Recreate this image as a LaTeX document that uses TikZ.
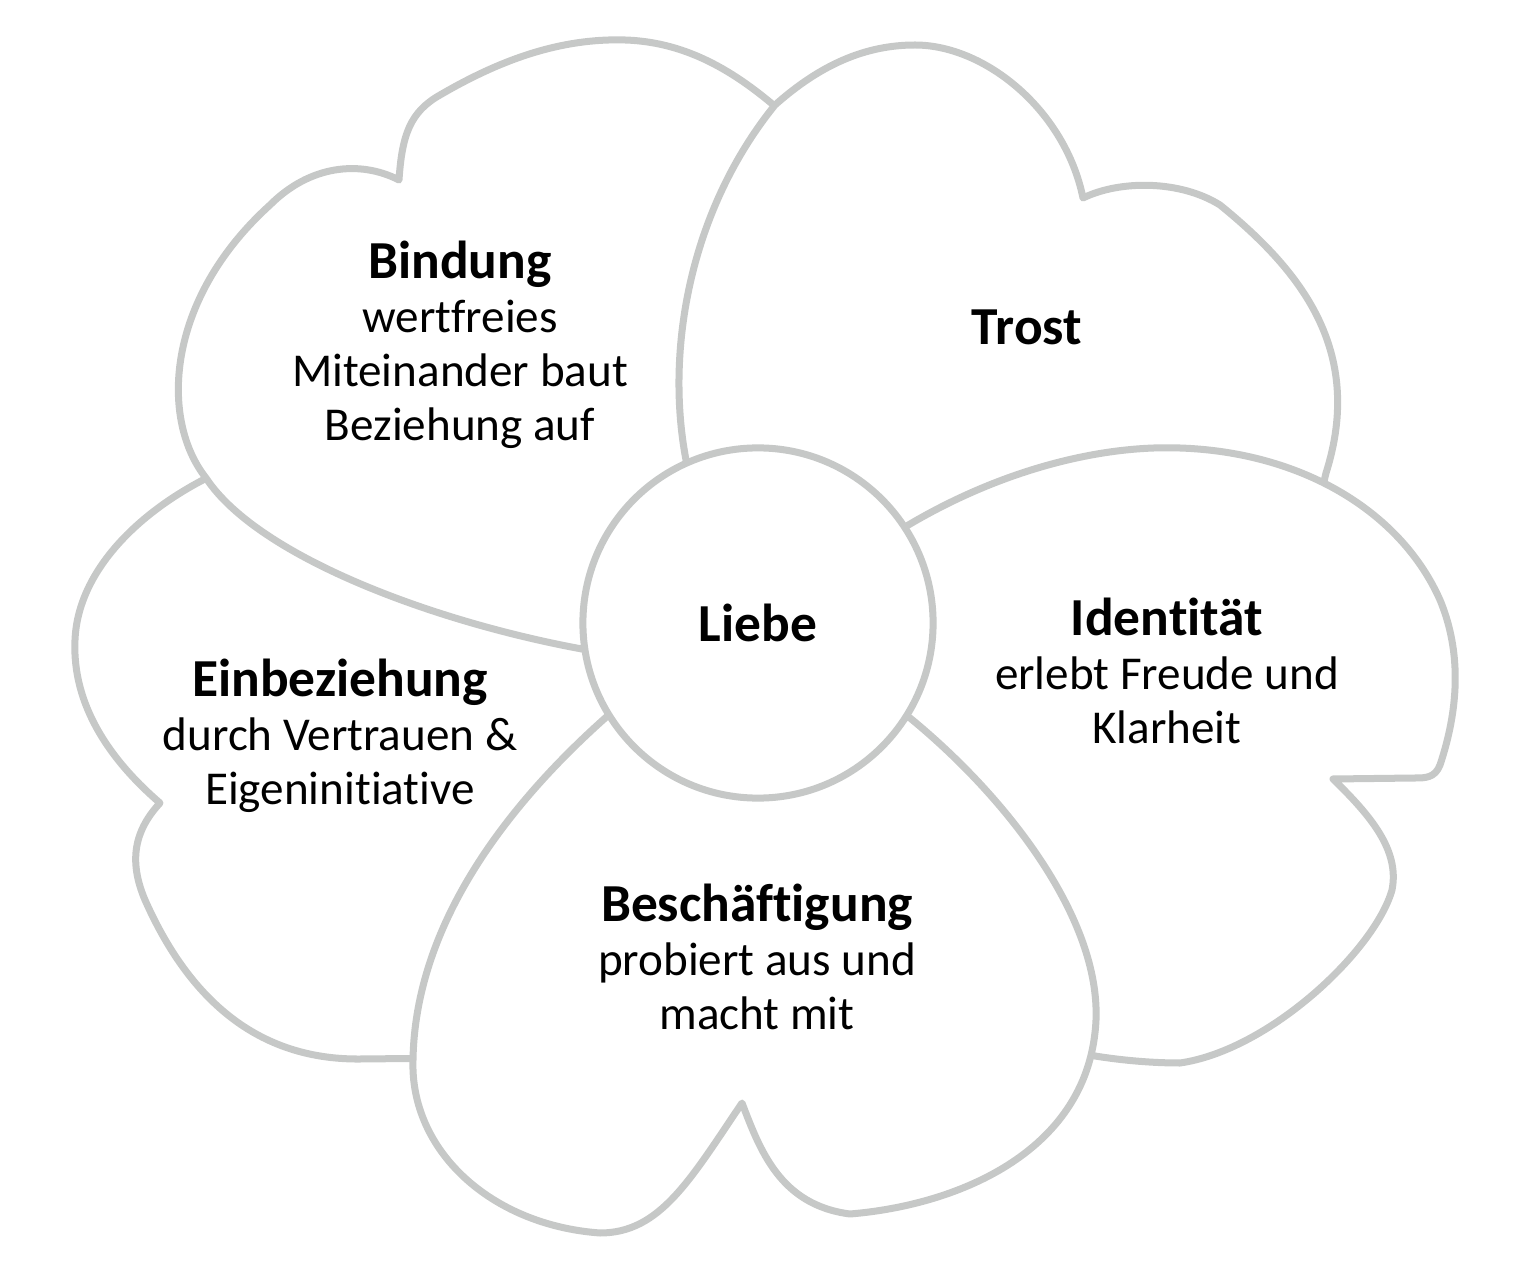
\documentclass[tikz,border=0pt]{standalone}
\usepackage{fontspec}
\setmainfont{Carlito}[Ligatures=NoCommon]
\usepackage{tikz}
\definecolor{clPetal}{HTML}{C6C8C7}
\tikzset{
  petal/.style={draw=clPetal, fill=white, line width=0.7mm, line join=round},
  petaltext/.style={align=center, inner sep=0pt, font=\fontsize{13.4}{15.4}\selectfont},
  core/.style={circle, draw=clPetal, fill=white, line width=0.7mm, minimum size=35mm,
               inner sep=0pt, font=\fontsize{15.2}{15.4}\selectfont\bfseries},
  title/.style={font=\fontsize{15.2}{15.4}\selectfont\bfseries},
}

\begin{document}
\begin{tikzpicture}[x=0.01cm, y=-0.01cm]
  \useasboundingbox (0,0) rectangle (1536,1261);
  % petals, back to front
  \draw[petal] (160,803) .. controls (110,760) and (72,705) .. (75,640)
    .. controls (78,565) and (150,500) .. (235,465)
    -- (450,560) -- (560,610) -- (680,660) -- (460,1058) -- (360,1059)
    .. controls (250,1060) and (185,990) .. (145,900)
    .. controls (128,860) and (135,830) .. cycle;
  \draw[petal] (399,180) .. controls (402,135) and (410,112) .. (440,95)
    .. controls (500,60) and (560,38) .. (625,40)
    .. controls (690,42) and (740,75) .. (785,115)
    -- (760,300) -- (700,600) -- (605,653)
    .. controls (450,628) and (260,560) .. (206,478)
    .. controls (160,420) and (165,300) .. (270,205)
    .. controls (310,165) and (360,160) .. cycle;
  \draw[petal] (1083,198) .. controls (1120,180) and (1180,180) .. (1220,205)
    .. controls (1300,270) and (1365,350) .. (1326,473)
    -- (1310,540) -- (800,600) -- (700,520) -- (686,460)
    .. controls (665,350) and (690,210) .. (775,105)
    .. controls (820,65) and (865,45) .. (915,45)
    .. controls (985,45) and (1065,110) .. cycle;
  \draw[petal] (905,527) .. controls (1000,470) and (1100,445) .. (1180,448)
    .. controls (1300,452) and (1400,510) .. (1440,600)
    .. controls (1465,660) and (1455,720) .. (1440,765)
    .. controls (1435,778) and (1425,778) .. (1415,778)
    -- (1333,779)
    .. controls (1370,815) and (1400,850) .. (1392,890)
    .. controls (1375,950) and (1270,1050) .. (1180,1063)
    .. controls (1150,1063) and (1120,1060) .. (1095,1056)
    -- (1040,1040) -- (850,700) -- (880,560) -- cycle;
  \draw[petal] (612,712) .. controls (500,810) and (415,930) .. (413,1060)
    .. controls (410,1150) and (490,1225) .. (600,1233)
    .. controls (660,1233) and (690,1180) .. (742,1103)
    .. controls (760,1150) and (780,1205) .. (850,1214)
    .. controls (960,1205) and (1090,1150) .. (1096,1020)
    .. controls (1100,920) and (1010,800) .. (910,718)
    -- (760,680) -- cycle;
  \node[core] (liebe) at (758,623) {Liebe};

  \node[petaltext] (bindung) at (460,345) {{\fontsize{15.2}{15.4}\selectfont\bfseries Bindung}\\wertfreies\\Miteinander baut\\Beziehung auf};
  \node[petaltext, title] (trost) at (1027,327) {Trost};
  \node[petaltext] (identitaet) at (1167,671) {{\fontsize{15.2}{15.4}\selectfont\bfseries Identität}\\erlebt Freude und\\Klarheit};
  \node[petaltext] (einbeziehung) at (340,736) {{\fontsize{15.2}{15.4}\selectfont\bfseries Einbeziehung}\\durch Vertrauen \&\\Eigeninitiative};
  \node[petaltext] (beschaeftigung) at (757,957) {{\fontsize{15.2}{15.4}\selectfont\bfseries Beschäftigung}\\probiert aus und\\macht mit};
\end{tikzpicture}
\end{document}
